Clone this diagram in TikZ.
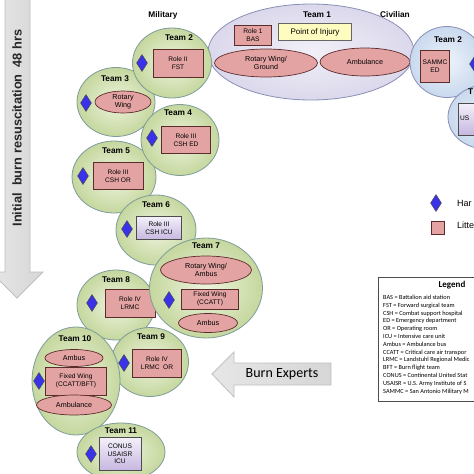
\documentclass[tikz,border=0pt]{standalone}
\usepackage{fontspec}
\setmainfont{Liberation Sans}
\newfontfamily\calibri{Carlito}
\usetikzlibrary{shapes.geometric}

\definecolor{teamgreen}{HTML}{C5D79E}
\definecolor{teamgreenin}{HTML}{EEF4DE}
\definecolor{teamline}{HTML}{7E9C9A}
\definecolor{poiblue}{HTML}{DCD8EC}
\definecolor{poiline}{HTML}{8A8FB5}
\definecolor{civblue}{HTML}{C9D9EE}
\definecolor{civbluein}{HTML}{EEF3FA}
\definecolor{unitpink}{HTML}{E4A3A3}
\definecolor{unitline}{HTML}{5C2C2C}
\definecolor{icutop}{HTML}{F4F0FA}
\definecolor{icubot}{HTML}{C6B7E0}
\definecolor{handblue}{HTML}{3A32E8}
\definecolor{arrowgray}{HTML}{D6D6D6}

\tikzset{
  team/.style={ellipse, draw=teamline, line width=0.8pt, inner color=teamgreenin,
    outer color=teamgreen, inner sep=0pt},
  civteam/.style={team, draw=poiline, inner color=civbluein, outer color=civblue},
  teamlbl/.style={font=\bfseries\fontsize{8.3}{9}\selectfont},
  unit/.style={rectangle, draw=unitline, fill=unitpink, line width=0.7pt, align=center,
    inner sep=0pt, font=\fontsize{6.6}{7.6}\selectfont},
  icu/.style={unit, fill=none, top color=icutop, bottom color=icubot, draw=black!70},
  ride/.style={ellipse, draw=unitline, fill=unitpink, line width=0.7pt, align=center,
    inner sep=0pt, font=\fontsize{7.2}{8.2}\selectfont},
  hand/.style={diamond, draw=black!70, fill=handblue, line width=0.5pt,
    minimum width=11pt, minimum height=17pt, inner sep=0pt},
  bigarrow/.style={draw=black!25, line width=0.8pt, left color=arrowgray!60, right color=arrowgray}
}

\begin{document}
\begin{tikzpicture}[x=1pt, y=-1pt]
\useasboundingbox (0,0) rectangle (474,474);
\clip (0,0) rectangle (474,474);

% resuscitation arrow
\draw[bigarrow] (5,-5) -- (30,-5) -- (30,272) -- (43,272) -- (17,298) -- (-9,272) -- (5,272) -- cycle;
\node[rotate=90, font=\bfseries\fontsize{12.8}{14}\selectfont, text=black!85] (resus) at (17,128)
  {Initial\ \ burn resuscitation\ \ 48 hrs};

\node[teamlbl] (mil) at (163,15) {Military};
\node[teamlbl] (civ) at (395,15) {Civilian};

% Team 1
\node[team, draw=poiline, inner color=poiblue!40, outer color=poiblue, minimum width=206pt, minimum height=96pt] (t1) at (311,52) {};
\node[teamlbl] (t1l) at (317,15) {Team 1};
\node[unit, minimum width=37pt, minimum height=20pt] (bas) at (253,35) {Role 1\\BAS};
\node[unit, fill=yellow!25, draw=black!60, minimum width=73pt, minimum height=17pt,
  font=\fontsize{8}{9}\selectfont] (poi) at (315,32) {Point of Injury};
\node[ride, minimum width=103pt, minimum height=28pt] (rwg) at (266,63) {Rotary Wing/\\Ground};
\node[ride, minimum width=90pt, minimum height=28pt] (amb1) at (365,62) {Ambulance};

% civilian Team 2
\node[civteam, minimum width=74pt, minimum height=71pt] (c2) at (447,62) {};
\node[teamlbl] (c2l) at (448,40) {Team 2};
\node[unit, minimum width=29pt, minimum height=32pt] (sammc) at (435,66) {SAMMC\\ED};
\node[hand] (c2h) at (475,64) {};

% civilian Team 3
\node[civteam, minimum width=76pt, minimum height=64pt] (c3) at (486,117) {};
\node[teamlbl, anchor=west, inner sep=0pt] (c3l) at (468,92) {T};
\node[icu, minimum width=56pt, minimum height=32pt] (c3u) at (486,119) {};
\node[font=\fontsize{6.6}{7.6}\selectfont, anchor=west, inner sep=0pt] (c3t) at (460,118) {US};

% Team 3
\node[team, minimum width=78pt, minimum height=69pt] (m3) at (116,102) {};
\node[teamlbl] (m3l) at (115,79) {Team 3};
\node[hand] (m3h) at (86,103) {};
\node[ride, minimum width=56pt, minimum height=22pt] (rw3) at (123,102) {Rotary\\Wing};

% Team 2
\node[team, minimum width=79pt, minimum height=70pt] (m2) at (172,63) {};
\node[teamlbl] (m2l) at (179,38) {Team 2};
\node[hand] (m2h) at (142,63) {};
\node[unit, minimum width=50pt, minimum height=28pt] (fst) at (178,63) {Role II\\FST};

% Team 5
\node[team, minimum width=84pt, minimum height=72pt] (m5) at (114,177) {};
\node[teamlbl] (m5l) at (116,151) {Team 5};
\node[hand] (m5h) at (83,176) {};
\node[unit, minimum width=50pt, minimum height=27pt] (csor) at (118,176) {Role III\\CSH OR};

% Team 4
\node[team, minimum width=78pt, minimum height=71pt] (m4) at (180,140) {};
\node[teamlbl] (m4l) at (178,113) {Team 4};
\node[hand] (m4h) at (152,138) {};
\node[unit, minimum width=49pt, minimum height=27pt] (csed) at (186,140) {Role III\\CSH ED};

% Team 6
\node[team, minimum width=80pt, minimum height=70pt] (m6) at (156,230) {};
\node[teamlbl] (m6l) at (156,205) {Team 6};
\node[hand] (m6h) at (127,229) {};
\node[icu, minimum width=45pt, minimum height=23pt] (csicu) at (159,228) {Role III\\CSH ICU};

% Team 8
\node[team, minimum width=78pt, minimum height=70pt] (m8) at (116,305) {};
\node[teamlbl] (m8l) at (116,280) {Team 8};
\node[hand] (m8h) at (92,303) {};
\node[unit, minimum width=50pt, minimum height=28pt] (lrmc) at (130,303) {Role IV\\LRMC};

% Team 7
\node[team, minimum width=113pt, minimum height=100pt] (m7) at (206,288) {};
\node[teamlbl] (m7l) at (206,246) {Team 7};
\node[ride, minimum width=91pt, minimum height=28pt] (rwa) at (206,270) {Rotary Wing/\\Ambus};
\node[hand] (m7h) at (169,300) {};
\node[unit, minimum width=57pt, minimum height=20pt] (fw7) at (210,299) {Fixed Wing\\(CCATT)};
\node[ride, minimum width=59pt, minimum height=19pt] (amb7) at (208,323) {Ambus};

% Team 9
\node[team, minimum width=77pt, minimum height=69pt] (m9) at (150,362) {};
\node[teamlbl] (m9l) at (151,337) {Team 9};
\node[hand] (m9h) at (124,363) {};
\node[unit, minimum width=49pt, minimum height=28pt] (lrmcor) at (157,363) {Role IV\\LRMC\ \ OR};

% Team 10
\node[team, minimum width=88pt, minimum height=108pt] (m10) at (76,381) {};
\node[teamlbl] (m10l) at (75,339) {Team 10};
\node[ride, minimum width=58pt, minimum height=17pt] (amb10) at (74,358) {Ambus};
\node[hand] (m10h) at (39,381) {};
\node[unit, minimum width=61pt, minimum height=28pt] (fw10) at (76,381) {Fixed Wing\\(CCATT/BFT)};
\node[ride, minimum width=75pt, minimum height=20pt] (ambl10) at (74,405) {Ambulance};

% Team 11
\node[team, minimum width=88pt, minimum height=58pt] (m11) at (121,452) {};
\node[teamlbl] (m11l) at (121,431) {Team 11};
\node[hand] (m11h) at (91,454) {};
\node[icu, minimum width=42pt, minimum height=33pt] (conus) at (120,454) {CONUS\\USAISR\\ICU};

% burn experts arrow
\draw[bigarrow] (212,374) -- (234,352) -- (234,363) -- (331,363) -- (331,385) -- (234,385) -- (234,397) -- cycle;
\node[font=\calibri\fontsize{14}{15}\selectfont] (burn) at (282,374) {Burn Experts};

% key
\node[hand] (keyh) at (436,203) {};
\node[anchor=west, inner sep=0pt, font=\fontsize{9}{10}\selectfont] (keyht) at (457,203) {Har};
\node[unit, minimum width=13pt, minimum height=13pt] (keyl) at (438,228) {};
\node[anchor=west, inner sep=0pt, font=\fontsize{9}{10}\selectfont] (keylt) at (457,225) {Litte};

% legend
\draw[black!70, line width=0.8pt] (378,277) rectangle (500,401);
\node[font=\calibri\bfseries\fontsize{9}{10}\selectfont] (leg) at (452,285) {Legend};
\foreach \ab [count=\i] in {BAS = Battalion aid station, FST = Forward  surgical team,
  CSH = Combat support hospital, ED = Emergency  department, OR = Operating  room,
  ICU = Intensive  care  unit, Ambus = Ambulance  bus, CCATT = Critical  care  air transpor,
  LRMC = Landstuhl Regional  Medic, BFT = Burn flight team,
  CONUS = Continental  United Stat, USAISR = U.S. Army  Institute of S,
  SAMMC = San Antonio  Military  M}
  \node[anchor=west, inner sep=0pt, font=\calibri\fontsize{6.3}{7}\selectfont] (leg\i) at (383,290+7.8*\i) {\ab};
\end{tikzpicture}
\end{document}
